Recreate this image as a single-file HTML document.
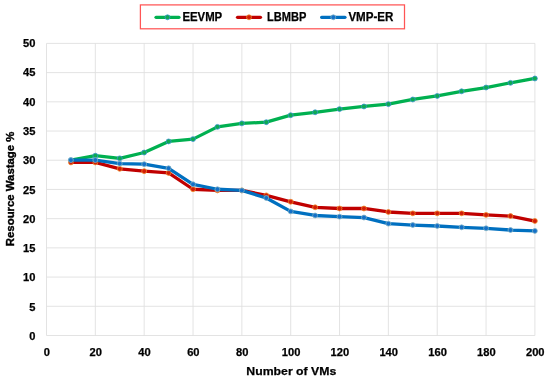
<!DOCTYPE html>
<html lang="en"><head><meta charset="utf-8"><title>Resource Wastage</title>
<style>html,body{margin:0;padding:0;background:#fff;overflow:hidden}svg{display:block}text{font-family:"Liberation Sans",sans-serif;font-weight:700;fill:#000}</style></head><body>
<svg width="550" height="382" viewBox="0 0 550 382">
<rect width="550" height="382" fill="#fff"/>
<g stroke="#dedede" stroke-width="0.85" fill="none">
<line x1="46.5" y1="335.50" x2="534.9" y2="335.50"/>
<line x1="46.5" y1="306.29" x2="534.9" y2="306.29"/>
<line x1="46.5" y1="277.08" x2="534.9" y2="277.08"/>
<line x1="46.5" y1="247.87" x2="534.9" y2="247.87"/>
<line x1="46.5" y1="218.66" x2="534.9" y2="218.66"/>
<line x1="46.5" y1="189.45" x2="534.9" y2="189.45"/>
<line x1="46.5" y1="160.24" x2="534.9" y2="160.24"/>
<line x1="46.5" y1="131.03" x2="534.9" y2="131.03"/>
<line x1="46.5" y1="101.82" x2="534.9" y2="101.82"/>
<line x1="46.5" y1="72.61" x2="534.9" y2="72.61"/>
<line x1="46.5" y1="43.40" x2="534.9" y2="43.40"/>
<line x1="46.50" y1="43.4" x2="46.50" y2="335.5"/>
<line x1="95.34" y1="43.4" x2="95.34" y2="335.5"/>
<line x1="144.18" y1="43.4" x2="144.18" y2="335.5"/>
<line x1="193.02" y1="43.4" x2="193.02" y2="335.5"/>
<line x1="241.86" y1="43.4" x2="241.86" y2="335.5"/>
<line x1="290.70" y1="43.4" x2="290.70" y2="335.5"/>
<line x1="339.54" y1="43.4" x2="339.54" y2="335.5"/>
<line x1="388.38" y1="43.4" x2="388.38" y2="335.5"/>
<line x1="437.22" y1="43.4" x2="437.22" y2="335.5"/>
<line x1="486.06" y1="43.4" x2="486.06" y2="335.5"/>
<line x1="534.90" y1="43.4" x2="534.90" y2="335.5"/>
</g>
<g font-size="11.2" text-anchor="middle" stroke="#000" stroke-width="0.25">
<text x="46.85" y="355.6" textLength="6.2" lengthAdjust="spacingAndGlyphs">0</text>
<text x="95.69" y="355.6" textLength="12.4" lengthAdjust="spacingAndGlyphs">20</text>
<text x="144.53" y="355.6" textLength="12.4" lengthAdjust="spacingAndGlyphs">40</text>
<text x="193.37" y="355.6" textLength="12.4" lengthAdjust="spacingAndGlyphs">60</text>
<text x="242.21" y="355.6" textLength="12.4" lengthAdjust="spacingAndGlyphs">80</text>
<text x="291.05" y="355.6" textLength="18.6" lengthAdjust="spacingAndGlyphs">100</text>
<text x="339.89" y="355.6" textLength="18.6" lengthAdjust="spacingAndGlyphs">120</text>
<text x="388.73" y="355.6" textLength="18.6" lengthAdjust="spacingAndGlyphs">140</text>
<text x="437.57" y="355.6" textLength="18.6" lengthAdjust="spacingAndGlyphs">160</text>
<text x="486.41" y="355.6" textLength="18.6" lengthAdjust="spacingAndGlyphs">180</text>
<text x="535.25" y="355.6" textLength="18.6" lengthAdjust="spacingAndGlyphs">200</text>
</g>
<g font-size="11.2" text-anchor="end" stroke="#000" stroke-width="0.25">
<text x="35.4" y="339.90" textLength="6.2" lengthAdjust="spacingAndGlyphs">0</text>
<text x="35.4" y="310.63" textLength="6.2" lengthAdjust="spacingAndGlyphs">5</text>
<text x="35.4" y="281.36" textLength="12.4" lengthAdjust="spacingAndGlyphs">10</text>
<text x="35.4" y="252.09" textLength="12.4" lengthAdjust="spacingAndGlyphs">15</text>
<text x="35.4" y="222.82" textLength="12.4" lengthAdjust="spacingAndGlyphs">20</text>
<text x="35.4" y="193.55" textLength="12.4" lengthAdjust="spacingAndGlyphs">25</text>
<text x="35.4" y="164.28" textLength="12.4" lengthAdjust="spacingAndGlyphs">30</text>
<text x="35.4" y="135.01" textLength="12.4" lengthAdjust="spacingAndGlyphs">35</text>
<text x="35.4" y="105.74" textLength="12.4" lengthAdjust="spacingAndGlyphs">40</text>
<text x="35.4" y="76.47" textLength="12.4" lengthAdjust="spacingAndGlyphs">45</text>
<text x="35.4" y="47.20" textLength="12.4" lengthAdjust="spacingAndGlyphs">50</text>
</g>
<text x="291.3" y="375.2" font-size="11.8" stroke="#000" stroke-width="0.25" text-anchor="middle" textLength="90" lengthAdjust="spacingAndGlyphs">Number of VMs</text>
<text transform="translate(14.2,188.9) rotate(-90)" font-size="11.8" stroke="#000" stroke-width="0.4" text-anchor="middle" textLength="114.5" lengthAdjust="spacingAndGlyphs">Resource Wastage %</text>
<polyline points="70.92,160.10 95.34,155.73 119.76,158.35 144.18,152.52 168.60,141.44 193.02,139.11 217.44,126.87 241.86,123.37 266.28,122.21 290.70,115.21 315.12,112.29 339.54,109.09 363.96,106.46 388.38,104.13 412.80,99.47 437.22,95.97 461.64,91.31 486.06,87.52 510.48,82.85 534.90,78.48" fill="none" stroke="#00b050" stroke-width="3.3" stroke-linejoin="round" stroke-linecap="round"/><g fill="#0cab50" stroke="#3d93d2" stroke-width="0.8"><circle cx="70.92" cy="160.10" r="2.45"/><circle cx="95.34" cy="155.73" r="2.45"/><circle cx="119.76" cy="158.35" r="2.45"/><circle cx="144.18" cy="152.52" r="2.45"/><circle cx="168.60" cy="141.44" r="2.45"/><circle cx="193.02" cy="139.11" r="2.45"/><circle cx="217.44" cy="126.87" r="2.45"/><circle cx="241.86" cy="123.37" r="2.45"/><circle cx="266.28" cy="122.21" r="2.45"/><circle cx="290.70" cy="115.21" r="2.45"/><circle cx="315.12" cy="112.29" r="2.45"/><circle cx="339.54" cy="109.09" r="2.45"/><circle cx="363.96" cy="106.46" r="2.45"/><circle cx="388.38" cy="104.13" r="2.45"/><circle cx="412.80" cy="99.47" r="2.45"/><circle cx="437.22" cy="95.97" r="2.45"/><circle cx="461.64" cy="91.31" r="2.45"/><circle cx="486.06" cy="87.52" r="2.45"/><circle cx="510.48" cy="82.85" r="2.45"/><circle cx="534.90" cy="78.48" r="2.45"/></g>
<polyline points="70.92,162.43 95.34,162.43 119.76,168.84 144.18,171.18 168.60,172.93 193.02,189.25 217.44,190.42 241.86,190.42 266.28,195.37 290.70,201.78 315.12,207.32 339.54,208.49 363.96,208.49 388.38,211.99 412.80,213.33 437.22,213.33 461.64,213.33 486.06,214.90 510.48,216.07 534.90,221.02" fill="none" stroke="#c00000" stroke-width="3.3" stroke-linejoin="round" stroke-linecap="round"/><g fill="#d21c08" stroke="#f08a28" stroke-width="0.8"><circle cx="70.92" cy="162.43" r="2.45"/><circle cx="95.34" cy="162.43" r="2.45"/><circle cx="119.76" cy="168.84" r="2.45"/><circle cx="144.18" cy="171.18" r="2.45"/><circle cx="168.60" cy="172.93" r="2.45"/><circle cx="193.02" cy="189.25" r="2.45"/><circle cx="217.44" cy="190.42" r="2.45"/><circle cx="241.86" cy="190.42" r="2.45"/><circle cx="266.28" cy="195.37" r="2.45"/><circle cx="290.70" cy="201.78" r="2.45"/><circle cx="315.12" cy="207.32" r="2.45"/><circle cx="339.54" cy="208.49" r="2.45"/><circle cx="363.96" cy="208.49" r="2.45"/><circle cx="388.38" cy="211.99" r="2.45"/><circle cx="412.80" cy="213.33" r="2.45"/><circle cx="437.22" cy="213.33" r="2.45"/><circle cx="461.64" cy="213.33" r="2.45"/><circle cx="486.06" cy="214.90" r="2.45"/><circle cx="510.48" cy="216.07" r="2.45"/><circle cx="534.90" cy="221.02" r="2.45"/></g>
<polyline points="70.92,160.10 95.34,160.10 119.76,163.60 144.18,164.18 168.60,168.26 193.02,184.29 217.44,189.25 241.86,190.42 266.28,198.00 290.70,211.40 315.12,215.49 339.54,216.65 363.96,217.53 388.38,223.65 412.80,225.05 437.22,225.98 461.64,227.32 486.06,228.31 510.48,230.06 534.90,230.93" fill="none" stroke="#0070c0" stroke-width="3.3" stroke-linejoin="round" stroke-linecap="round"/><g fill="#1470c8" stroke="#7fb2c4" stroke-width="0.8"><circle cx="70.92" cy="160.10" r="2.45"/><circle cx="95.34" cy="160.10" r="2.45"/><circle cx="119.76" cy="163.60" r="2.45"/><circle cx="144.18" cy="164.18" r="2.45"/><circle cx="168.60" cy="168.26" r="2.45"/><circle cx="193.02" cy="184.29" r="2.45"/><circle cx="217.44" cy="189.25" r="2.45"/><circle cx="241.86" cy="190.42" r="2.45"/><circle cx="266.28" cy="198.00" r="2.45"/><circle cx="290.70" cy="211.40" r="2.45"/><circle cx="315.12" cy="215.49" r="2.45"/><circle cx="339.54" cy="216.65" r="2.45"/><circle cx="363.96" cy="217.53" r="2.45"/><circle cx="388.38" cy="223.65" r="2.45"/><circle cx="412.80" cy="225.05" r="2.45"/><circle cx="437.22" cy="225.98" r="2.45"/><circle cx="461.64" cy="227.32" r="2.45"/><circle cx="486.06" cy="228.31" r="2.45"/><circle cx="510.48" cy="230.06" r="2.45"/><circle cx="534.90" cy="230.93" r="2.45"/></g>
<rect x="140.4" y="4.9" width="264.1" height="23.9" fill="#fff" stroke="#ff5555" stroke-width="1.25"/>
<line x1="156" y1="17.3" x2="179" y2="17.3" stroke="#00b050" stroke-width="3.2" stroke-linecap="round"/><circle cx="167.5" cy="17.3" r="2.45" fill="#0cab50" stroke="#3d93d2" stroke-width="0.8"/><text x="182.4" y="20.8" font-size="12.2" stroke="#000" stroke-width="0.25" textLength="39.8" lengthAdjust="spacingAndGlyphs">EEVMP</text>
<line x1="237.5" y1="17.3" x2="260.5" y2="17.3" stroke="#c00000" stroke-width="3.2" stroke-linecap="round"/><circle cx="249.0" cy="17.3" r="2.45" fill="#d21c08" stroke="#f08a28" stroke-width="0.8"/><text x="267.0" y="20.8" font-size="12.2" stroke="#000" stroke-width="0.25" textLength="39.4" lengthAdjust="spacingAndGlyphs">LBMBP</text>
<line x1="321.6" y1="17.3" x2="345.0" y2="17.3" stroke="#0070c0" stroke-width="3.2" stroke-linecap="round"/><circle cx="333.3" cy="17.3" r="2.45" fill="#1470c8" stroke="#7fb2c4" stroke-width="0.8"/><text x="348.4" y="20.8" font-size="12.2" stroke="#000" stroke-width="0.25" textLength="45.0" lengthAdjust="spacingAndGlyphs">VMP-ER</text>
</svg></body></html>
